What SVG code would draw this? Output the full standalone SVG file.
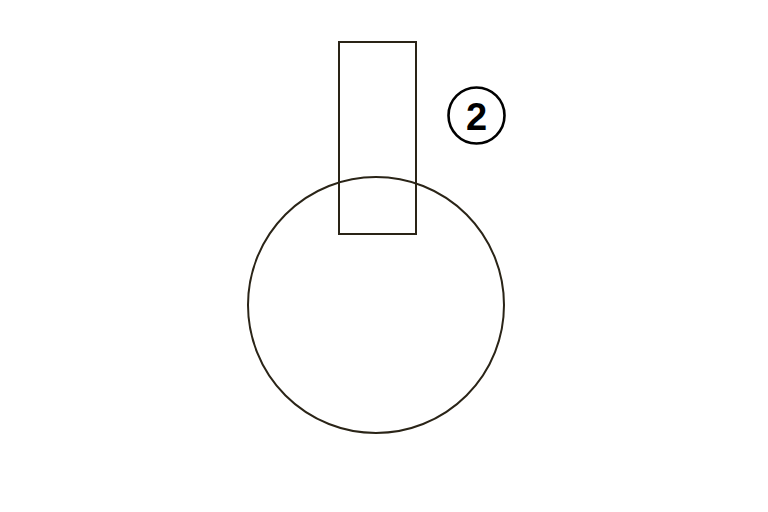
<svg xmlns="http://www.w3.org/2000/svg" width="768" height="512" viewBox="0 0 768 512">
<style>
.s{fill:none;stroke:#2a2417;stroke-width:2}
.lbl{font-family:"Liberation Sans",Arial,sans-serif;font-weight:bold;font-size:38px;fill:#000}
</style>
<rect width="768" height="512" fill="#fff"/>
<g id="ball"><circle class="s" cx="376" cy="305" r="128"/></g>
<g id="stick"><rect class="s" x="339" y="42" width="77" height="192"/></g>
<g id="label2">
<circle cx="476.5" cy="115.5" r="28" fill="none" stroke="#000" stroke-width="2.6"/>
<text class="lbl" x="476.5" y="129.5" text-anchor="middle">2</text>
</g>
<g id="connectors"></g>
</svg>
